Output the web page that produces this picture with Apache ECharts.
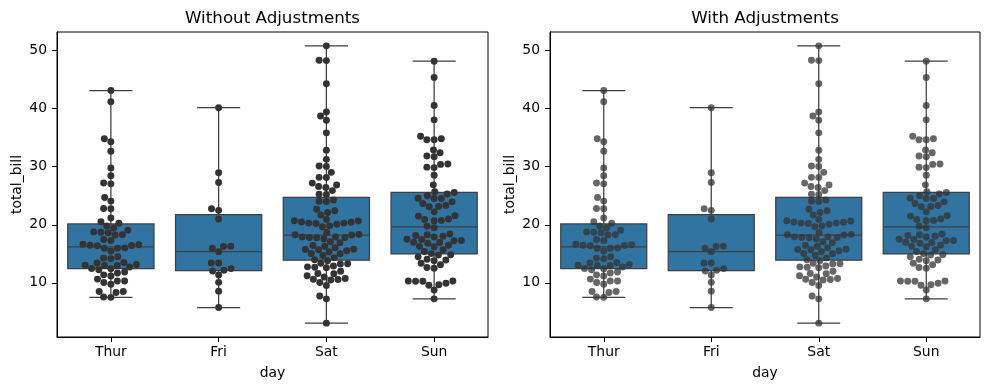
<!DOCTYPE html>
<html>
<head>
<meta charset="utf-8">
<script src="https://cdn.jsdelivr.net/npm/echarts@6/dist/echarts.min.js"></script>
<style>html,body{margin:0;padding:0;background:#fff}#c{width:989px;height:390px}</style>
</head>
<body>
<div id="c"></div>
<script>
// ---- data (tips dataset, total_bill by day) ----
const days = ['Thur', 'Fri', 'Sat', 'Sun'];
const thur = [27.20,22.76,17.29,19.44,16.66,10.07,32.68,15.98,34.83,13.03,18.28,24.71,21.16,
  10.65,12.43,24.08,11.69,13.42,14.26,15.95,12.48,29.80,8.52,14.52,11.38,22.82,19.08,20.27,11.17,12.26,18.26,8.51,10.33,14.15,16.00,13.16,17.47,34.30,41.19,27.05,16.43,8.35,18.64,11.87,9.78,7.51,
  19.81,28.44,15.48,16.58,7.56,10.34,43.11,13.00,13.51,18.71,12.74,13.00,16.40,20.53,16.47,18.78];
const fri = [28.97,22.49,5.75,16.32,22.75,40.17,27.28,12.03,21.01,12.46,11.35,15.38,12.16,13.42,8.58,15.98,13.42,16.27,10.09];
const sat = [20.65,17.92,20.29,15.77,39.42,19.82,17.81,13.37,12.69,21.70,19.65,9.55,18.35,15.06,20.69,17.78,24.06,16.31,16.93,18.69,31.27,16.04,
  38.01,26.41,11.24,48.27,20.29,13.81,11.02,18.29,17.59,20.08,16.45,3.07,20.23,15.01,12.02,17.07,26.86,25.28,14.73,10.51,17.92,
  44.30,22.42,20.92,15.36,20.49,25.21,18.24,14.31,14.00,7.25,
  10.59,10.63,50.81,15.81,
  26.59,38.73,24.27,12.76,30.06,25.89,48.33,13.27,28.17,12.90,28.15,11.59,7.74,30.14,
  20.45,13.28,22.12,24.01,15.69,11.61,10.77,15.53,10.07,12.60,32.83,35.83,29.03,27.18,22.67,17.82];
const sun = [16.99,10.34,21.01,23.68,24.59,25.29,8.77,26.88,15.04,14.78,10.27,35.26,15.42,18.43,14.83,21.58,10.33,16.29,16.97,
  17.46,13.94,9.68,30.40,18.29,22.23,32.40,28.55,18.04,12.54,10.29,34.81,9.94,25.56,19.49,
  38.07,23.95,25.71,17.31,29.93,
  14.07,13.13,17.26,24.55,19.77,29.85,48.17,25.00,13.39,16.49,21.50,12.66,16.21,13.81,17.51,24.52,20.76,31.71,
  7.25,31.85,16.82,32.90,17.89,14.48,9.60,34.63,34.65,23.33,45.35,23.17,40.55,20.69,20.90,30.46,18.15,23.10,15.69];
const yTicks = [10, 20, 30, 40, 50];
const titles = ['Without Adjustments', 'With Adjustments'];

const groups = [thur, fri, sat, sun];

function pct(sorted, p) {
  const pos = (sorted.length - 1) * p, lo = Math.floor(pos), hi = Math.ceil(pos);
  return sorted[lo] + (sorted[hi] - sorted[lo]) * (pos - lo);
}
const boxData = groups.map((g, i) => {
  const s = g.slice().sort((a, b) => a - b);
  return [i, s[0], pct(s, 0.25), pct(s, 0.5), pct(s, 0.75), s[s.length - 1]];
});

const FONT = '"DejaVu Sans", sans-serif';
const LINE = '#3f3f3f';
const BOX = '#3274a1';
const allVals = [].concat(...groups);
const dmin = Math.min(...allVals), dmax = Math.max(...allVals);
const ymin = dmin - 0.05 * (dmax - dmin), ymax = dmax + 0.05 * (dmax - dmin);

const gridsPx = [{left: 57, top: 32, width: 431, height: 305}, {left: 550, top: 32, width: 430, height: 305}];

function renderBox(params, api) {
  const i = api.value(0), mn = api.value(1), q1 = api.value(2), md = api.value(3), q3 = api.value(4), mx = api.value(5);
  const c = (x, y) => api.coord([x, y]);
  const a = c(i - 0.4, q3), b = c(i + 0.4, q1);
  const st = {stroke: LINE, lineWidth: 1.25};
  const ln = (p, q) => ({type: 'line', shape: {x1: p[0], y1: p[1], x2: q[0], y2: q[1]}, style: Object.assign({}, st)});
  return {type: 'group', children: [
    ln(c(i, q1), c(i, mn)),
    ln(c(i, q3), c(i, mx)),
    ln(c(i - 0.2, mn), c(i + 0.2, mn)),
    ln(c(i - 0.2, mx), c(i + 0.2, mx)),
    {type: 'rect', shape: {x: a[0], y: a[1], width: b[0] - a[0], height: b[1] - a[1]}, style: {fill: BOX, stroke: LINE, lineWidth: 1.25}},
    ln(c(i - 0.4, md), c(i + 0.4, md))
  ]};
}

const xAxes = [], yAxes = [], series = [], graphics = [];
gridsPx.forEach((g, k) => {
  xAxes.push({type: 'category', gridIndex: k, data: days, position: 'bottom',
    name: 'day', nameLocation: 'middle', nameGap: 29,
    nameTextStyle: {fontFamily: FONT, fontSize: 13.9, color: '#000'},
    axisLine: {show: true, onZero: false, lineStyle: {color: '#000', width: 1}},
    axisTick: {show: true, alignWithLabel: true, length: 5, lineStyle: {color: '#000', width: 1}},
    axisLabel: {fontFamily: FONT, fontSize: 13.9, color: '#000', margin: 8},
    splitLine: {show: false}});
  xAxes.push({type: 'value', gridIndex: k, min: -0.5, max: 3.5, show: false});
  yAxes.push({type: 'value', gridIndex: k, min: ymin, max: ymax, position: 'left',
    name: 'total_bill', nameLocation: 'middle', nameGap: 33, nameRotate: 90,
    nameTextStyle: {fontFamily: FONT, fontSize: 13.9, color: '#000'},
    axisLine: {show: true, onZero: false, lineStyle: {color: '#000', width: 1}},
    axisTick: {show: true, length: 5, customValues: yTicks, lineStyle: {color: '#000', width: 1}},
    axisLabel: {fontFamily: FONT, fontSize: 13.9, color: '#000', margin: 10, customValues: yTicks},
    splitLine: {show: false}});
  series.push({type: 'custom', xAxisIndex: 2 * k + 1, yAxisIndex: k, renderItem: renderBox, data: boxData, z: 2, silent: true});
  series.push({type: 'scatter', xAxisIndex: 2 * k + 1, yAxisIndex: k, data: [], symbolSize: 6.94, z: 3, silent: true,
    itemStyle: {color: '#333333', opacity: k === 0 ? 1 : 0.75, borderWidth: 0}});
  graphics.push({type: 'text', x: g.left + g.width / 2, y: 18.5,
    style: {text: titles[k], fill: '#000', font: '16.7px ' + FONT, textAlign: 'center', textVerticalAlign: 'middle', align: 'center', verticalAlign: 'middle'}});
});

const chart = echarts.init(document.getElementById('c'), null, {renderer: 'canvas'});
chart.setOption({
  animation: false,
  backgroundColor: '#fff',
  grid: gridsPx.map(g => Object.assign({show: true, borderColor: '#000', borderWidth: 1, backgroundColor: 'transparent'}, g)),
  xAxis: xAxes, yAxis: yAxes, series: series, graphic: graphics
});

// seaborn-like beeswarm in pixel space
function beeswarm(uList, r) {
  const n = uList.length;
  const order = uList.map((_, i) => i).sort((a, b) => (uList[a] - uList[b]) || (a - b));
  const swarm = [];
  const off = new Array(n).fill(0);
  for (const i of order) {
    const yi = uList[i];
    const neighbors = [];
    for (let j = swarm.length - 1; j >= 0; j--) {
      if (yi - swarm[j].y < 2 * r) neighbors.push(swarm[j]); else break;
    }
    const cands = [0];
    let leftFirst = true;
    for (const p of neighbors) {
      const dy = yi - p.y;
      const dx = Math.sqrt(Math.max(4 * r * r - dy * dy, 0)) * 1.05;
      if (leftFirst) cands.push(p.x - dx, p.x + dx); else cands.push(p.x + dx, p.x - dx);
      leftFirst = !leftFirst;
    }
    const sortedC = cands.map((x, k) => [x, k]).sort((a, b) => (Math.abs(a[0]) - Math.abs(b[0])) || (a[1] - b[1]));
    let chosen = sortedC[0][0];
    for (const [x] of sortedC) {
      let ok = true;
      for (const p of neighbors) {
        const dx = x - p.x, dy = yi - p.y;
        if (dx * dx + dy * dy - 4 * r * r < -1e-6) { ok = false; break; }
      }
      if (ok) { chosen = x; break; }
    }
    swarm.push({x: chosen, y: yi});
    off[i] = chosen;
  }
  return off;
}

const R = 3.47;
const newSeries = [];
gridsPx.forEach((g, k) => {
  const xa = 2 * k + 1;
  const pxPerUnit = chart.convertToPixel({xAxisIndex: xa}, 1) - chart.convertToPixel({xAxisIndex: xa}, 0);
  const pts = [];
  groups.forEach((vals, i) => {
    const u = vals.map(v => -chart.convertToPixel({yAxisIndex: k}, v));
    const off = beeswarm(u, R);
    vals.forEach((v, j) => {
      let o = off[j] / pxPerUnit;
      o = Math.max(-0.4, Math.min(0.4, o));
      pts.push([i + o, v]);
    });
  });
  newSeries.push({}, {data: pts});
});
chart.setOption({series: newSeries});
</script>
</body>
</html>
